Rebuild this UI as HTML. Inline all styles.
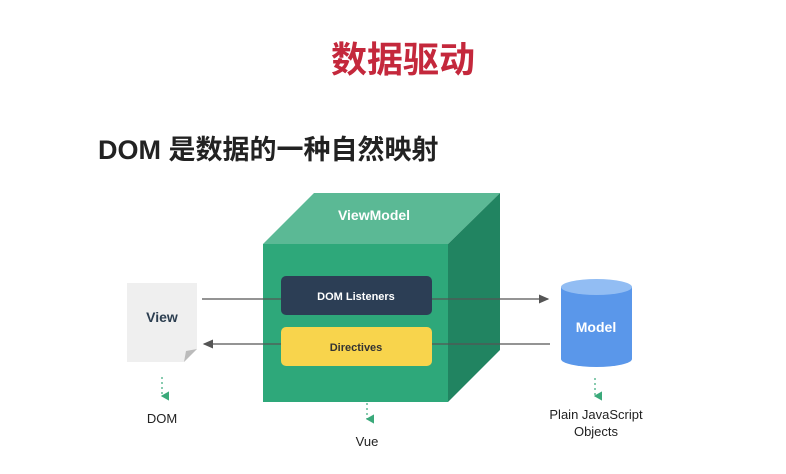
<!DOCTYPE html>
<html><head><meta charset="utf-8"><style>
body{margin:0;width:786px;height:474px;background:#fff;overflow:hidden;position:relative;font-family:"Liberation Sans","Noto Sans CJK SC",sans-serif}
.t{position:absolute;left:0;width:806px;text-align:center;top:38px;font-size:36px;font-weight:bold;color:#c4283c;line-height:44px}
.s{position:absolute;left:98px;top:132px;font-size:27px;font-weight:bold;color:#222;line-height:36px}
</style></head><body>
<div class="t">数据驱动</div>
<div class="s">DOM 是数据的一种自然映射</div>
<svg width="786" height="474" style="position:absolute;left:0;top:0" font-family="Liberation Sans, sans-serif">
<defs><marker id="a" markerWidth="8" markerHeight="8" refX="7" refY="4" orient="auto"><path d="M0,0.5 L8,4 L0,7.5z" fill="#555"/></marker>
<marker id="g" markerWidth="8" markerHeight="8" refX="4" refY="6" orient="auto-start-reverse"><path d="M0,0 L8,0 L4,7z" fill="#3aa97a"/></marker></defs>
<polygon points="263,244 314,193 500,193 448,244" fill="#5bb995"/>
<polygon points="448,244 500,193 500,350 448,402" fill="#218461"/>
<rect x="263" y="244" width="185" height="158" fill="#2ea87a"/>
<text x="374" y="220" fill="#fff" font-size="14" font-weight="bold" text-anchor="middle">ViewModel</text>
<polygon points="127,283 197,283 197,349 184,362 127,362" fill="#efefef"/>
<polygon points="184,362 197,349 186,351" fill="#bbb"/>
<text x="162" y="322" fill="#2c3e50" font-size="14" font-weight="bold" text-anchor="middle">View</text>
<line x1="202" y1="299" x2="548" y2="299" stroke="#555" stroke-width="1.3" marker-end="url(#a)"/>
<line x1="550" y1="344" x2="204" y2="344" stroke="#555" stroke-width="1.3" marker-end="url(#a)"/>
<rect x="281" y="276" width="151" height="39" rx="5" fill="#2c3e55"/>
<text x="356" y="300" fill="#fff" font-size="11" font-weight="bold" text-anchor="middle">DOM Listeners</text>
<rect x="281" y="327" width="151" height="39" rx="5" fill="#f8d44c"/>
<text x="356" y="351" fill="#333" font-size="11" font-weight="bold" text-anchor="middle">Directives</text>
<path d="M561,287 L561,359 A35.5,8 0 0 0 632,359 L632,287z" fill="#5a97ea"/>
<ellipse cx="596.5" cy="287" rx="35.5" ry="8" fill="#92bdf3"/>
<text x="596" y="332" fill="#fff" font-size="14" font-weight="bold" text-anchor="middle">Model</text>
<g stroke="#3aa97a" stroke-width="1.2" stroke-dasharray="2,3">
<line x1="162" y1="377" x2="162" y2="396" marker-end="url(#g)"/>
<line x1="367" y1="403" x2="367" y2="419" marker-end="url(#g)"/>
<line x1="595" y1="378" x2="595" y2="396" marker-end="url(#g)"/>
</g>
<g fill="#222" font-size="13" text-anchor="middle">
<text x="162" y="423">DOM</text>
<text x="367" y="446">Vue</text>
<text x="596" y="419">Plain JavaScript</text>
<text x="596" y="436">Objects</text>
</g>
</svg>
</body></html>
